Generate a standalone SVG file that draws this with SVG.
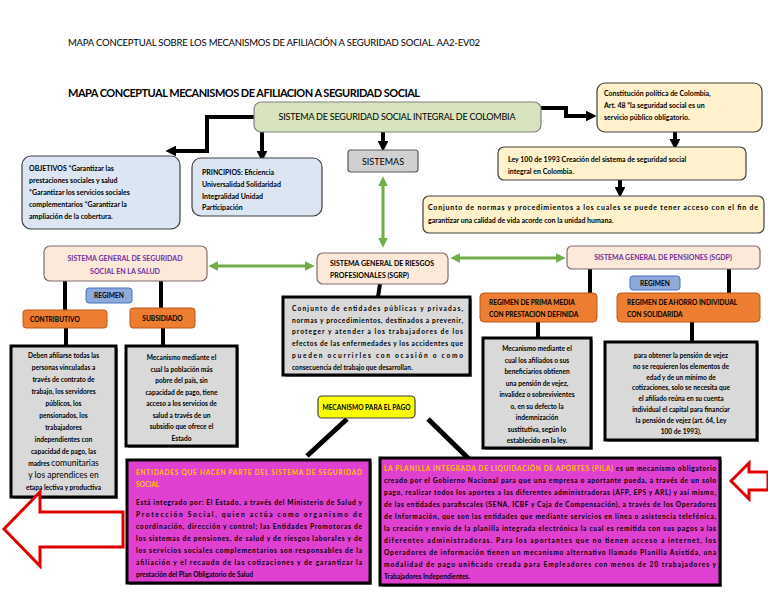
<svg xmlns="http://www.w3.org/2000/svg" width="768" height="594" viewBox="0 0 768 594">
<style>
text{font-family:Lato,"Open Sans","Liberation Sans",sans-serif;fill:#000}
.b{font-weight:bold;font-size:7px}
.s{font-weight:bold;font-size:6.6px}
.c{text-anchor:middle}
.p{fill:#7030a0}
.g{fill:#ffc000}
.cream{fill:#fff2cc;stroke:#404040;stroke-width:1.2}
.blue{fill:#dce6f2;stroke:#404040;stroke-width:1.2}
.peach{fill:#fde9d9;stroke:#7f6f6f;stroke-width:1.2}
.org{fill:#ed7d31;stroke:#b55a1c;stroke-width:1}
.reg{fill:#8eaadb;stroke:#4472c4;stroke-width:1}
.grey{fill:#d9d9d9;stroke:#000;stroke-width:3}
.pink{fill:#df40cf;stroke:#000;stroke-width:3}
.shadow{fill:#8c8c8c}
.k{stroke:#000;stroke-width:4;fill:none}
.ga{stroke:#70ad47;stroke-width:3;fill:none}
.red{fill:#fff;stroke:#e00000;stroke-width:3;stroke-linejoin:miter}
</style>
<defs>
<marker id="ah" viewBox="0 0 10 10" refX="2" refY="5" markerWidth="2.7" markerHeight="2.7" orient="auto" markerUnits="strokeWidth">
<path d="M0,0 L10,5 L0,10 z" fill="#000"/>
</marker>
<marker id="gh" viewBox="0 0 10 10" refX="2" refY="5" markerWidth="3.2" markerHeight="3.2" orient="auto-start-reverse" markerUnits="strokeWidth">
<path d="M0,0 L10,5 L0,10 z" fill="#70ad47"/>
</marker>
</defs>
<rect width="768" height="594" fill="#fff"/>
<text x="68" y="46" style="font-size:9.5px" textLength="412">MAPA CONCEPTUAL SOBRE LOS MECANISMOS DE AFILIACIÓN A SEGURIDAD SOCIAL. AA2-EV02</text>
<text x="68" y="97" style="font-size:11px;font-weight:bold" textLength="352">MAPA CONCEPTUAL MECANISMOS DE AFILIACION A SEGURIDAD SOCIAL</text>

<g id="connectors">
<path class="k" d="M254,117 H207 V151 H174" marker-end="url(#ah)"/>
<path class="k" d="M262,132 V153" marker-end="url(#ah)"/>
<path class="k" d="M383,132 V143" marker-end="url(#ah)"/>
<path class="k" d="M541,108 H566 V116 H588" marker-end="url(#ah)"/>
<path class="k" d="M675,132 V141" marker-end="url(#ah)"/>
<path class="k" d="M620,180 V189" marker-end="url(#ah)"/>
<path class="ga" d="M383,184 V240" marker-start="url(#gh)" marker-end="url(#gh)"/>
<path class="ga" d="M216,266 H307" marker-start="url(#gh)" marker-end="url(#gh)"/>
<path class="ga" d="M458,258 H558" marker-start="url(#gh)" marker-end="url(#gh)"/>
<path class="k" d="M65,281 V310 M161,281 V308 M66,328 V346 M163,328 V346"/>
<path class="k" d="M380,284 L378,297"/>
<path class="k" d="M590,269 V293 M729,269 V293 M538,322 V338 M692,322 V342"/>
<path class="k" style="stroke-width:5" d="M347,419 L307,456"/>
<path class="k" style="stroke-width:5" d="M428,419 L470,460"/>
</g>

<g id="n-sssi">
<rect x="254" y="102" width="287" height="30" rx="7" fill="#d7e4bd" stroke="#7f7f7f" stroke-width="1.2"/>
<text x="397" y="120" class="c" style="font-size:9px" textLength="237">SISTEMA DE SEGURIDAD SOCIAL INTEGRAL DE COLOMBIA</text>
</g>

<g id="n-const">
<rect x="597" y="83" width="165" height="49" rx="8" class="cream"/>
<text x="604" y="96" class="b">Constitución política de Colombia,</text>
<text x="604" y="108" class="b">Art. 48 “la seguridad social es un</text>
<text x="604" y="120" class="b">servicio público obligatorio.</text>
</g>

<g id="n-ley">
<rect x="498" y="147" width="248" height="33" rx="6" class="cream"/>
<text x="508" y="162" class="b">Ley 100 de 1993 Creación del sistema de seguridad social</text>
<text x="508" y="174" class="b">integral en Colombia.</text>
</g>

<g id="n-conjunto">
<rect x="423" y="196" width="341" height="37" rx="6" class="cream"/>
<text x="428" y="210" class="b" textLength="330">Conjunto de normas y procedimientos a los cuales se puede tener acceso con el fin de</text>
<text x="428" y="223" class="b">garantizar una calidad de vida acorde con la unidad humana.</text>
</g>

<g id="n-objetivos">
<rect x="22" y="156" width="158" height="73" rx="9" class="blue"/>
<text x="29" y="171" class="b">OBJETIVOS *Garantizar las</text>
<text x="29" y="183" class="b">prestaciones sociales y salud</text>
<text x="29" y="195" class="b">*Garantizar los servicios sociales</text>
<text x="29" y="207" class="b">complementarios *Garantizar la</text>
<text x="29" y="219" class="b">ampliación de la cobertura.</text>
</g>

<g id="n-principios">
<rect x="192" y="158" width="130" height="58" rx="9" class="blue"/>
<text x="202" y="175" class="b">PRINCIPIOS: Eficiencia</text>
<text x="202" y="187" class="b">Universalidad Solidaridad</text>
<text x="202" y="199" class="b">Integralidad Unidad</text>
<text x="202" y="210" class="b">Participación</text>
</g>

<g id="n-sistemas">
<rect x="348" y="150" width="70" height="22" rx="3" fill="#d0d0d0" stroke="#595959" stroke-width="1.2"/>
<text x="383" y="164.5" class="c" style="font-size:9px">SISTEMAS</text>
</g>

<g id="n-salud">
<rect x="44" y="246" width="163" height="35" rx="6" class="peach"/>
<text x="125" y="261" class="b c p">SISTEMA GENERAL DE SEGURIDAD</text>
<text x="125" y="274" class="b c p">SOCIAL EN LA SALUD</text>
</g>

<g id="n-sgrp">
<rect x="317" y="253" width="131" height="31" rx="6" class="peach"/>
<text x="330" y="266" class="b">SISTEMA GENERAL DE RIESGOS</text>
<text x="330" y="278" class="b">PROFESIONALES (SGRP)</text>
</g>

<g id="n-sgdp">
<rect x="567" y="246" width="193" height="23" rx="5" class="peach"/>
<text x="663" y="260" class="b c p">SISTEMA GENERAL DE PENSIONES (SGDP)</text>
</g>

<g id="n-regimen1">
<rect x="86" y="288" width="46" height="15" rx="3" class="reg"/>
<text x="109" y="298" class="s c">REGIMEN</text>
</g>
<g id="n-contributivo">
<rect x="23" y="310" width="84" height="18" rx="3" class="org"/>
<text x="30" y="321.5" class="s">CONTRIBUTIVO</text>
</g>
<g id="n-subsidiado">
<rect x="130" y="308" width="65" height="20" rx="3" class="org"/>
<text x="162.5" y="320.5" class="s c">SUBSIDIADO</text>
</g>

<g id="n-regimen2">
<rect x="630" y="276" width="50" height="14" rx="3" class="reg"/>
<text x="655" y="285.5" class="s c">REGIMEN</text>
</g>
<g id="n-prima">
<rect x="480" y="293" width="117" height="29" rx="4" class="org"/>
<text x="489" y="305" class="s">REGIMEN DE PRIMA MEDIA</text>
<text x="489" y="317" class="s">CON PRESTACION DEFINIDA</text>
</g>
<g id="n-ahorro">
<rect x="617" y="293" width="143" height="29" rx="4" class="org"/>
<text x="627" y="305" class="s">REGIMEN DE AHORRO INDIVIDUAL</text>
<text x="627" y="317" class="s">CON SOLIDARIDA</text>
</g>

<g id="n-contrib-desc">
<rect x="13" y="348" width="105" height="151" class="shadow"/>
<rect x="11" y="346" width="105" height="151" class="grey"/>
<g class="s c">
<text x="63.5" y="358">Deben afiliarse todas las</text>
<text x="63.5" y="370">personas vinculadas a</text>
<text x="63.5" y="382">través de contrato de</text>
<text x="63.5" y="394">trabajo, los servidores</text>
<text x="63.5" y="406">públicos, los</text>
<text x="63.5" y="418">pensionados, los</text>
<text x="63.5" y="430">trabajadores</text>
<text x="63.5" y="442">independientes con</text>
<text x="63.5" y="454">capacidad de pago, las</text>
<text x="63.5" y="466">madres <tspan style="font-weight:normal;font-size:8.5px">comunitarias</tspan></text>
<text x="63.5" y="478" style="font-weight:normal;font-size:8.5px">y los aprendices en</text>
<text x="63.5" y="490">etapa lectiva y productiva</text>
</g>
</g>

<g id="n-subs-desc">
<rect x="128" y="348" width="111" height="100" class="shadow"/>
<rect x="126" y="346" width="111" height="100" class="grey"/>
<g class="s c">
<text x="181.5" y="360">Mecanismo mediante el</text>
<text x="181.5" y="371.5">cual la población más</text>
<text x="181.5" y="383">pobre del país, sin</text>
<text x="181.5" y="394.5">capacidad de pago, tiene</text>
<text x="181.5" y="406">acceso a los servicios de</text>
<text x="181.5" y="417.5">salud a través de un</text>
<text x="181.5" y="429">subsidio que ofrece el</text>
<text x="181.5" y="440.5">Estado</text>
</g>
</g>

<g id="n-sgrp-desc">
<rect x="285" y="299" width="187" height="78" class="shadow"/>
<rect x="283" y="297" width="187" height="78" class="grey"/>
<g class="s">
<text x="292" y="311" textLength="171">Conjunto de entidades públicas y privadas,</text>
<text x="292" y="322.7" textLength="171">normas y procedimientos, destinados a prevenir,</text>
<text x="292" y="334.4" textLength="171">proteger y atender a los trabajadores de los</text>
<text x="292" y="346.1" textLength="171">efectos de las enfermedades y los accidentes que</text>
<text x="292" y="357.8" textLength="171">pueden ocurrirles con ocasión o como</text>
<text x="292" y="369.5">consecuencia del trabajo que desarrollan.</text>
</g>
</g>

<g id="n-prima-desc">
<rect x="485" y="340" width="108" height="110" class="shadow"/>
<rect x="483" y="338" width="108" height="110" class="grey"/>
<g class="s c">
<text x="537" y="351">Mecanismo mediante el</text>
<text x="537" y="362.5">cual los afiliados o sus</text>
<text x="537" y="374">beneficiarios obtienen</text>
<text x="537" y="385.5">una pensión de vejez,</text>
<text x="537" y="397">invalidez o sobrevivientes</text>
<text x="537" y="408.5">o, en su defecto la</text>
<text x="537" y="420">indemnización</text>
<text x="537" y="431.5">sustitutiva, según lo</text>
<text x="537" y="443">establecido en la ley.</text>
</g>
</g>

<g id="n-ahorro-desc">
<rect x="607" y="344" width="152" height="98" class="shadow"/>
<rect x="605" y="342" width="152" height="98" class="grey"/>
<g class="s c">
<text x="681" y="358">para obtener la pensión de vejez</text>
<text x="681" y="368.8">no se requieren los elementos de</text>
<text x="681" y="379.6">edad y de un mínimo de</text>
<text x="681" y="390.4">cotizaciones, solo se necesita que</text>
<text x="681" y="401.2">el afiliado reúna en su cuenta</text>
<text x="681" y="412">individual el capital para financiar</text>
<text x="681" y="422.8">la pensión de vejez (art. 64, Ley</text>
<text x="681" y="433.6">100 de 1993).</text>
</g>
</g>

<g id="n-mecanismo">
<rect x="318" y="396" width="97" height="22" rx="4" fill="#ffff00" stroke="#404040" stroke-width="1.2"/>
<text x="366.5" y="410" class="s c">MECANISMO PARA EL PAGO</text>
</g>

<g id="n-entidades">
<rect x="129" y="462" width="243" height="123" class="shadow"/>
<rect x="127" y="460" width="243" height="123" class="pink"/>
<g class="s">
<text x="136" y="475" class="g" textLength="226">ENTIDADES QUE HACEN PARTE DEL SISTEMA DE SEGURIDAD</text>
<text x="136" y="487" class="g">SOCIAL</text>
<text x="136" y="505" textLength="226">Está integrado por: El Estado, a través del Ministerio de Salud y</text>
<text x="136" y="517" textLength="226">Protección Social, quien actúa como organismo de</text>
<text x="136" y="529" textLength="226">coordinación, dirección y control; las Entidades Promotoras de</text>
<text x="136" y="541" textLength="226">los sistemas de pensiones, de salud y de riesgos laborales y de</text>
<text x="136" y="553" textLength="226">los servicios sociales complementarios son responsables de la</text>
<text x="136" y="565" textLength="226">afiliación y el recaudo de las cotizaciones y de garantizar la</text>
<text x="136" y="577">prestación del Plan Obligatorio de Salud</text>
</g>
</g>

<g id="n-pila">
<rect x="382" y="460" width="340" height="127" class="shadow"/>
<rect x="380" y="458" width="340" height="127" class="pink"/>
<g class="s">
<text x="384" y="471" textLength="332"><tspan class="g">LA PLANILLA INTEGRADA DE LIQUIDACIÓN DE APORTES (PILA)</tspan> es un mecanismo obligatorio</text>
<text x="384" y="483" textLength="332">creado por el Gobierno Nacional para que una empresa o aportante pueda, a través de un solo</text>
<text x="384" y="495" textLength="332">pago, realizar todos los aportes a las diferentes administradoras (AFP, EPS y ARL) y así mismo,</text>
<text x="384" y="507" textLength="332">de las entidades parafiscales (SENA, ICBF y Caja de Compensación), a través de los Operadores</text>
<text x="384" y="519" textLength="332">de Información, que son las entidades que mediante servicios en línea o asistencia telefónica,</text>
<text x="384" y="531" textLength="332">la creación y envío de la planilla integrada electrónica la cual es remitida con sus pagos a las</text>
<text x="384" y="543" textLength="332">diferentes administradoras. Para los aportantes que no tienen acceso a internet, los</text>
<text x="384" y="555" textLength="332">Operadores de información tienen un mecanismo alternativo llamado Planilla Asistida, una</text>
<text x="384" y="567" textLength="332">modalidad de pago unificado creada para Empleadores con menos de 20 trabajadores y</text>
<text x="384" y="579">Trabajadores Independientes.</text>
</g>
</g>

<path class="red" d="M4,529 L40,492 L40,512 L123,512 L123,547 L40,547 L40,566 Z"/>
<path class="red" d="M731,481 L749,463 L749,472 L768,472 L768,490 L749,490 L749,499 Z"/>
</svg>
